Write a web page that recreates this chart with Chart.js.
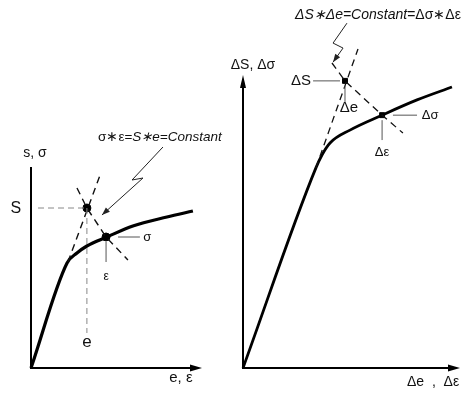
<!DOCTYPE html>
<html><head><meta charset="utf-8">
<script src="https://cdn.jsdelivr.net/npm/chart.js@4.4.1/dist/chart.umd.min.js"></script>
<style>
html,body{margin:0;padding:0;background:#fff;}
#wrap{position:relative;width:474px;height:395px;overflow:hidden;}
canvas{position:absolute;left:0;top:0;}
</style></head><body>
<div id="wrap"><canvas id="c1" width="474" height="395"></canvas><canvas id="c2" width="474" height="395"></canvas></div>
<script>
// ---------- LEFT PANEL: nominal (S, e) and local (sigma, epsilon) ----------
const leftCurveX   = [0, 2.11, 2.69, 3.27, 4.44, 5.96, 7.95, 9.47];
const leftCurveY   = [0, 5.25, 5.75, 6.10, 6.55, 7.10, 7.55, 7.85];
const leftElasticX = [2.16, 4.04];
const leftElasticY = [5.30, 9.65];
const leftHyperX   = [2.69, 3.27, 4.39, 5.67];
const leftHyperY   = [9.00, 8.00, 6.55, 5.40];
const leftPointsX  = [3.27, 4.39];   // (e, S) and (epsilon, sigma)
const leftPointsY  = [8.00, 6.55];
const leftProjHX   = [0.41, 3.27];   // S projection
const leftProjHY   = [8.00, 8.00];
const leftProjVX   = [3.27, 3.27];   // e projection
const leftProjVY   = [8.00, 1.75];

// ---------- RIGHT PANEL: ranges ----------
const rightCurveX   = [0, 3.36, 3.64, 4.01, 4.93, 6.41, 8.02, 9.63];
const rightCurveY   = [0, 6.83, 7.27, 7.68, 8.12, 8.63, 9.15, 9.59];
const rightElasticX = [3.36, 5.30];
const rightElasticY = [6.83, 10.89];
const rightHyperX   = [4.10, 4.70, 6.41, 7.37];
const rightHyperY   = [10.41, 9.80, 8.63, 8.02];
const rightPointsX  = [4.70, 6.41];  // (dE, dS) and (d eps, d sigma)
const rightPointsY  = [9.80, 8.63];

const FONT = '"Liberation Sans", Arial, sans-serif';

function xy(xs, ys){ return xs.map((x,i)=>({x, y: ys[i]})); }

function lineDs(xs, ys, opt){
  return Object.assign({data: xy(xs, ys), showLine: true, pointRadius: 0,
    borderColor: '#000', borderWidth: 1, fill: false, clip: false}, opt);
}

const leftAnno = {
  arrowY: false,
  leaders: [ [[5.09,6.55],[6.37,6.55]], [[4.39,6.30],[4.39,5.30]] ],
  zig: [[7.72,11.05],[5.91,9.40],[6.55,9.50],[4.15,7.65]],
  texts: [
    {t:[['s, σ',false]], x:0.23, y:10.75, size:14},
    {t:[['S',false]], x:-0.88, y:7.95, size:16},
    {t:[['e',false]], x:3.27, y:1.3, size:17},
    {t:[['σ',false]], x:6.80, y:6.55, size:13},
    {t:[['ε',false]], x:4.39, y:4.55, size:12},
    {t:[['e, ε',false]], x:8.77, y:-0.5, size:15},
    {t:[['σ∗ε=',false],['S∗e=Constant',true]], x:7.54, y:11.55, size:13.5}
  ]
};
const rightAnno = {
  arrowY: true,
  leaders: [ [[3.23,9.80],[4.47,9.80]], [[4.70,9.62],[4.70,9.08]],
             [[6.91,8.63],[8.02,8.63]], [[6.41,8.46],[6.41,7.78]] ],
  zig: [[4.79,11.77],[4.15,11.09],[4.61,10.92],[4.15,10.44]],
  texts: [
    {t:[['ΔS, Δσ',false]], x:0.46, y:10.34, size:14},
    {t:[['ΔS',false]], x:2.67, y:9.80, size:15},
    {t:[['Δe',false]], x:4.88, y:8.87, size:15},
    {t:[['Δσ',false]], x:8.62, y:8.63, size:13},
    {t:[['Δε',false]], x:6.41, y:7.37, size:13},
    {t:[['Δe  ,  Δε',false]], x:8.76, y:-0.48, size:14},
    {t:[['ΔS∗Δe=Constant',true],['=Δσ∗Δε',false]], x:6.22, y:12.05, size:14}
  ]
};

const annoPlugin = {
  id: 'anno',
  afterDatasetsDraw(chart, args, a){
    const ctx = chart.ctx, xs = chart.scales.x, ys = chart.scales.y, ca = chart.chartArea;
    const P = (p)=>[xs.getPixelForValue(p[0]), ys.getPixelForValue(p[1])];
    ctx.save();
    ctx.fillStyle = '#000';
    ctx.beginPath();
    ctx.moveTo(ca.right + 5, ca.bottom);
    ctx.lineTo(ca.right - 7, ca.bottom - 3.5);
    ctx.lineTo(ca.right - 7, ca.bottom + 3.5);
    ctx.closePath(); ctx.fill();
    if (a.arrowY){
      ctx.beginPath();
      ctx.moveTo(ca.left, ca.top - 5);
      ctx.lineTo(ca.left - 3, ca.top + 8);
      ctx.lineTo(ca.left + 3, ca.top + 8);
      ctx.closePath(); ctx.fill();
    }
    ctx.strokeStyle = '#555'; ctx.lineWidth = 1;
    a.leaders.forEach(l=>{
      const p0 = P(l[0]), p1 = P(l[1]);
      ctx.beginPath(); ctx.moveTo(p0[0], p0[1]); ctx.lineTo(p1[0], p1[1]); ctx.stroke();
    });
    ctx.strokeStyle = '#222'; ctx.lineWidth = 1;
    const z = a.zig.map(P);
    ctx.beginPath(); ctx.moveTo(z[0][0], z[0][1]);
    for (let i=1;i<z.length;i++) ctx.lineTo(z[i][0], z[i][1]);
    ctx.stroke();
    const e = z[z.length-1], s = z[z.length-2];
    const ang = Math.atan2(e[1]-s[1], e[0]-s[0]);
    ctx.fillStyle = '#222';
    ctx.beginPath();
    ctx.moveTo(e[0], e[1]);
    ctx.lineTo(e[0] - 8*Math.cos(ang) + 3*Math.sin(ang), e[1] - 8*Math.sin(ang) - 3*Math.cos(ang));
    ctx.lineTo(e[0] - 8*Math.cos(ang) - 3*Math.sin(ang), e[1] - 8*Math.sin(ang) + 3*Math.cos(ang));
    ctx.closePath(); ctx.fill();
    ctx.fillStyle = '#111'; ctx.textBaseline = 'middle'; ctx.textAlign = 'left';
    a.texts.forEach(tx=>{
      const p = P([tx.x, tx.y]);
      let w = 0;
      tx.t.forEach(seg=>{ ctx.font = (seg[1]?'italic ':'') + tx.size + 'px ' + FONT; w += ctx.measureText(seg[0]).width; });
      let cx = p[0] - w/2;
      tx.t.forEach(seg=>{
        ctx.font = (seg[1]?'italic ':'') + tx.size + 'px ' + FONT;
        ctx.fillText(seg[0], cx, p[1]);
        cx += ctx.measureText(seg[0]).width;
      });
    });
    ctx.restore();
  }
};

function makeChart(id, pad, xmax, ymax, datasets, anno){
  return new Chart(document.getElementById(id), {
    type: 'scatter',
    data: { datasets },
    options: {
      responsive: false, animation: false, devicePixelRatio: 1,
      layout: { padding: pad },
      plugins: { legend: {display:false}, tooltip: {enabled:false}, anno },
      scales: {
        x: { type:'linear', min:0, max:xmax, grid:{display:false, drawTicks:false},
             ticks:{display:false}, border:{display:true, color:'#000', width:2},
             afterFit: s => { s.height = 0; } },
        y: { type:'linear', min:0, max:ymax, grid:{display:false, drawTicks:false},
             ticks:{display:false}, border:{display:true, color:'#000', width:2},
             afterFit: s => { s.width = 0; } }
      }
    },
    plugins: [annoPlugin]
  });
}

makeChart('c1', {left:31, right:474-197, top:168, bottom:395-368}, 9.71, 10, [
  lineDs(leftProjHX, leftProjHY, {borderColor:'#888', borderWidth:1, borderDash:[6,4]}),
  lineDs(leftProjVX, leftProjVY, {borderColor:'#888', borderWidth:1, borderDash:[6,4]}),
  lineDs(leftElasticX, leftElasticY, {borderColor:'#111', borderWidth:1.4, borderDash:[7,5]}),
  lineDs(leftHyperX, leftHyperY, {borderColor:'#111', borderWidth:1.4, borderDash:[7,5]}),
  lineDs(leftCurveX, leftCurveY, {borderWidth:3.2, cubicInterpolationMode:'monotone'}),
  {data: xy(leftPointsX, leftPointsY), showLine:false, pointRadius:4, pointStyle:'circle',
   pointBackgroundColor:'#000', pointBorderColor:'#000', clip:false}
], leftAnno);

makeChart('c2', {left:243, right:474-455, top:80, bottom:395-368}, 9.77, 9.83, [
  lineDs(rightElasticX, rightElasticY, {borderColor:'#111', borderWidth:1.3, borderDash:[7,5]}),
  lineDs(rightHyperX, rightHyperY, {borderColor:'#111', borderWidth:1.3, borderDash:[7,5]}),
  lineDs(rightCurveX, rightCurveY, {borderWidth:2.8, cubicInterpolationMode:'monotone'}),
  {data: xy(rightPointsX, rightPointsY), showLine:false, pointRadius:3.5, pointStyle:'rect',
   pointBackgroundColor:'#000', pointBorderColor:'#000', clip:false}
], rightAnno);
</script>
</body></html>
